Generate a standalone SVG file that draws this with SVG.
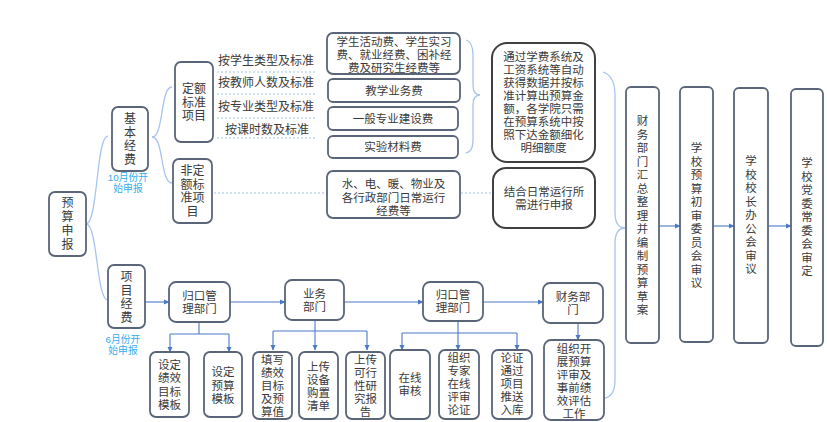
<svg xmlns="http://www.w3.org/2000/svg" width="827" height="422" viewBox="0 0 827 422">
<defs>
<style>
text{font-family:"Liberation Sans","Noto Sans CJK SC",sans-serif;font-size:11.5px;fill:#3a3a3a;text-anchor:middle;dominant-baseline:central}
.box{fill:#fff;stroke:#5b6579;stroke-width:1.8}
.dbox{fill:#fff;stroke:#404040;stroke-width:2}
.curve{fill:none;stroke:#a9c4ec;stroke-width:1.3}
.dot{fill:none;stroke:#9dc3e6;stroke-width:1.2;stroke-dasharray:2 2}
.arr{fill:none;stroke:#4a78c8;stroke-width:1.1}
.blue{fill:#33adf0;font-size:9.8px}
.lb{font-size:12px}
</style>
<marker id="ah" markerWidth="6" markerHeight="6" refX="5" refY="3" orient="auto" markerUnits="userSpaceOnUse">
<path d="M0,0.5 L5.5,3 L0,5.5 Z" fill="#4a78c8"/>
</marker>
</defs>
<rect width="827" height="422" fill="#fff"/>

<g id="connectors">
<path class="curve" d="M86,224 C98,224 96,136 108,136"/>
<path class="curve" d="M86,224 C98,224 96,300 108,300"/>
<path class="curve" d="M152,137 C164,137 160,87 172,87"/>
<path class="curve" d="M152,137 C164,137 160,183 172,183"/>
<path class="dot" d="M217,72 H315 M217,94 H315 M217,118 H315 M217,138 H315"/>
<path class="dot" d="M214,193 H327 M461,193 H492"/>
<path class="curve" d="M466,40 Q473,42 473,55 V85 Q473,95 480,95 Q473,95 473,105 V140 Q473,152 466,153"/>
<path class="curve" d="M603,72 Q615,76 615,95 V212 Q615,228 625,228 Q615,228 615,244 V380 Q615,396 605,398"/>
<path class="arr" marker-end="url(#ah)" d="M145,302 H169"/>
<path class="arr" marker-end="url(#ah)" d="M230,302 H285"/>
<path class="arr" marker-end="url(#ah)" d="M344,302 H423"/>
<path class="arr" marker-end="url(#ah)" d="M483,302 H543"/>
<path class="arr" d="M199,322 V334 M170,334 H229"/>
<path class="arr" marker-end="url(#ah)" d="M170,334 V352"/>
<path class="arr" marker-end="url(#ah)" d="M229,334 V352"/>
<path class="arr" d="M315,320 V331 M273,331 H367"/>
<path class="arr" marker-end="url(#ah)" d="M273,331 V350"/>
<path class="arr" marker-end="url(#ah)" d="M315,331 V350"/>
<path class="arr" marker-end="url(#ah)" d="M367,331 V350"/>
<path class="arr" d="M458,321 V333 M402,333 H517"/>
<path class="arr" marker-end="url(#ah)" d="M402,333 V350"/>
<path class="arr" marker-end="url(#ah)" d="M458,333 V350"/>
<path class="arr" marker-end="url(#ah)" d="M517,333 V350"/>
<path class="arr" marker-end="url(#ah)" d="M578,323 V340"/>
<path class="arr" marker-end="url(#ah)" d="M659,226 H680"/>
<path class="arr" marker-end="url(#ah)" d="M713,226 H734"/>
<path class="arr" marker-end="url(#ah)" d="M768,226 H791"/>
</g>

<g id="labels">
<text class="lb" x="266" y="61">按学生类型及标准</text>
<text class="lb" x="266" y="83">按教师人数及标准</text>
<text class="lb" x="266" y="107">按专业类型及标准</text>
<text class="lb" x="267" y="130">按课时数及标准</text>
<text class="blue" x="128" y="177">10月份开<tspan x="128" dy="11">始申报</tspan></text>
<text class="blue" x="123" y="339">6月份开<tspan x="123" dy="11">始申报</tspan></text>
</g>

<g id="n-yusuan"><rect class="box" x="49" y="192" width="37" height="64" rx="6"/>
<text class="lb" x="67.5" y="203">预<tspan x="67.5" dy="14">算</tspan><tspan x="67.5" dy="14">申</tspan><tspan x="67.5" dy="14">报</tspan></text></g>

<g id="n-jiben"><rect class="box" x="112" y="107" width="36" height="64" rx="6"/>
<text class="lb" x="130" y="119">基<tspan x="130" dy="13.5">本</tspan><tspan x="130" dy="13.5">经</tspan><tspan x="130" dy="13.5">费</tspan></text></g>

<g id="n-xiangmu"><rect class="box" x="108" y="265" width="37" height="63" rx="6"/>
<text class="lb" x="126.5" y="277">项<tspan x="126.5" dy="13.5">目</tspan><tspan x="126.5" dy="13.5">经</tspan><tspan x="126.5" dy="13.5">费</tspan></text></g>

<g id="n-dinge"><rect class="box" x="175" y="62" width="38" height="80" rx="6"/>
<text class="lb" x="194" y="89">定额<tspan x="194" dy="13.5">标准</tspan><tspan x="194" dy="13.5">项目</tspan></text></g>

<g id="n-feidinge"><rect class="box" x="173" y="159" width="39" height="64" rx="6"/>
<text class="lb" x="192.5" y="171">非定<tspan x="192.5" dy="13.5">额标</tspan><tspan x="192.5" dy="13.5">准项</tspan><tspan x="192.5" dy="13.5">目</tspan></text></g>

<g id="n-xuesheng"><rect class="box" x="327" y="33" width="133" height="41" rx="6"/>
<text x="394" y="42">学生活动费、学生实习<tspan x="394" dy="13">费、就业经费、困补经</tspan><tspan x="394" dy="13">费及研究生经费等</tspan></text></g>
<g id="n-jiaoxue"><rect class="box" x="328" y="79" width="132" height="23" rx="5"/><text x="394" y="90.5">教学业务费</text></g>
<g id="n-yiban"><rect class="box" x="328" y="107" width="130" height="23" rx="5"/><text x="393" y="118.5">一般专业建设费</text></g>
<g id="n-shiyan"><rect class="box" x="328" y="136" width="130" height="22" rx="5"/><text x="393" y="147">实验材料费</text></g>
<g id="n-shuidian"><rect class="box" x="327" y="171" width="133" height="47" rx="6"/>
<text x="393.5" y="184">水、电、暖、物业及<tspan x="393.5" dy="13.5">各行政部门日常运行</tspan><tspan x="393.5" dy="13.5">经费等</tspan></text></g>

<g id="n-tongguo"><rect class="dbox" x="492" y="43" width="103" height="119" rx="15"/>
<text x="543.5" y="57">通过学费系统及<tspan x="543.5" dy="13">工资系统等自动</tspan><tspan x="543.5" dy="13">获得数据并按标</tspan><tspan x="543.5" dy="13">准计算出预算金</tspan><tspan x="543.5" dy="13">额，各学院只需</tspan><tspan x="543.5" dy="13">在预算系统中按</tspan><tspan x="543.5" dy="13">照下达金额细化</tspan><tspan x="543.5" dy="13">明细额度</tspan></text></g>
<g id="n-jiehe"><rect class="dbox" x="493" y="168" width="102" height="60" rx="13"/>
<text x="544" y="192">结合日常运行所<tspan x="544" dy="13">需进行申报</tspan></text></g>

<g id="n-caiwu-huizong"><rect class="box" x="626" y="87" width="33" height="256" rx="5"/>
<text x="642.5" y="121">财<tspan x="642.5" dy="13.5">务</tspan><tspan x="642.5" dy="13.5">部</tspan><tspan x="642.5" dy="13.5">门</tspan><tspan x="642.5" dy="13.5">汇</tspan><tspan x="642.5" dy="13.5">总</tspan><tspan x="642.5" dy="13.5">整</tspan><tspan x="642.5" dy="13.5">理</tspan><tspan x="642.5" dy="13.5">并</tspan><tspan x="642.5" dy="13.5">编</tspan><tspan x="642.5" dy="13.5">制</tspan><tspan x="642.5" dy="13.5">预</tspan><tspan x="642.5" dy="13.5">算</tspan><tspan x="642.5" dy="13.5">草</tspan><tspan x="642.5" dy="13.5">案</tspan></text></g>
<g id="n-chushen"><rect class="box" x="680" y="87" width="33" height="255" rx="5"/>
<text x="696.5" y="148">学<tspan x="696.5" dy="13.5">校</tspan><tspan x="696.5" dy="13.5">预</tspan><tspan x="696.5" dy="13.5">算</tspan><tspan x="696.5" dy="13.5">初</tspan><tspan x="696.5" dy="13.5">审</tspan><tspan x="696.5" dy="13.5">委</tspan><tspan x="696.5" dy="13.5">员</tspan><tspan x="696.5" dy="13.5">会</tspan><tspan x="696.5" dy="13.5">审</tspan><tspan x="696.5" dy="13.5">议</tspan></text></g>
<g id="n-xiaozhang"><rect class="box" x="734" y="88" width="34" height="255" rx="5"/>
<text x="751" y="161">学<tspan x="751" dy="13.5">校</tspan><tspan x="751" dy="13.5">校</tspan><tspan x="751" dy="13.5">长</tspan><tspan x="751" dy="13.5">办</tspan><tspan x="751" dy="13.5">公</tspan><tspan x="751" dy="13.5">会</tspan><tspan x="751" dy="13.5">审</tspan><tspan x="751" dy="13.5">议</tspan></text></g>
<g id="n-dangwei"><rect class="box" x="791" y="89" width="32" height="257" rx="5"/>
<text x="807" y="163">学<tspan x="807" dy="13.5">校</tspan><tspan x="807" dy="13.5">党</tspan><tspan x="807" dy="13.5">委</tspan><tspan x="807" dy="13.5">常</tspan><tspan x="807" dy="13.5">委</tspan><tspan x="807" dy="13.5">会</tspan><tspan x="807" dy="13.5">审</tspan><tspan x="807" dy="13.5">定</tspan></text></g>

<g id="n-guikou1"><rect class="box" x="169" y="282" width="61" height="40" rx="7"/>
<text x="199.5" y="295.5">归口管<tspan x="199.5" dy="13">理部门</tspan></text></g>
<g id="n-yewu"><rect class="box" x="285" y="280" width="59" height="40" rx="7"/>
<text x="314.5" y="294">业务<tspan x="314.5" dy="13">部门</tspan></text></g>
<g id="n-guikou2"><rect class="box" x="423" y="282" width="60" height="39" rx="7"/>
<text x="453" y="295">归口管<tspan x="453" dy="13">理部门</tspan></text></g>
<g id="n-caiwu"><rect class="box" x="543" y="283" width="60" height="40" rx="7"/>
<text x="573" y="296.5">财务部<tspan x="573" dy="13">门</tspan></text></g>

<g id="n-shedingjixiao"><rect class="box" x="150" y="352" width="39" height="65" rx="6"/>
<text x="169.5" y="364.5">设定<tspan x="169.5" dy="13.5">绩效</tspan><tspan x="169.5" dy="13.5">目标</tspan><tspan x="169.5" dy="13.5">模板</tspan></text></g>
<g id="n-shedingyusuan"><rect class="box" x="204" y="352" width="38" height="65" rx="6"/>
<text x="223" y="372">设定<tspan x="223" dy="13.5">预算</tspan><tspan x="223" dy="13.5">模板</tspan></text></g>
<g id="n-tianxie"><rect class="box" x="253" y="352" width="39" height="67" rx="6"/>
<text x="272.5" y="360">填写<tspan x="272.5" dy="13">绩效</tspan><tspan x="272.5" dy="13">目标</tspan><tspan x="272.5" dy="13">及预</tspan><tspan x="272.5" dy="13">算值</tspan></text></g>
<g id="n-shebei"><rect class="box" x="299" y="352" width="39" height="67" rx="6"/>
<text x="318.5" y="367">上传<tspan x="318.5" dy="13">设备</tspan><tspan x="318.5" dy="13">购置</tspan><tspan x="318.5" dy="13">清单</tspan></text></g>
<g id="n-kexing"><rect class="box" x="346" y="352" width="39" height="67" rx="6"/>
<text x="365.5" y="360">上传<tspan x="365.5" dy="13">可行</tspan><tspan x="365.5" dy="13">性研</tspan><tspan x="365.5" dy="13">究报</tspan><tspan x="365.5" dy="13">告</tspan></text></g>
<g id="n-zaixian"><rect class="box" x="390" y="350" width="40" height="69" rx="6"/>
<text x="410" y="378">在线<tspan x="410" dy="13">审核</tspan></text></g>
<g id="n-zhuanjia"><rect class="box" x="439" y="350" width="40" height="69" rx="6"/>
<text x="459" y="358">组织<tspan x="459" dy="13">专家</tspan><tspan x="459" dy="13">在线</tspan><tspan x="459" dy="13">评审</tspan><tspan x="459" dy="13">论证</tspan></text></g>
<g id="n-lunzheng"><rect class="box" x="492" y="350" width="40" height="69" rx="6"/>
<text x="512" y="358">论证<tspan x="512" dy="13">通过</tspan><tspan x="512" dy="13">项目</tspan><tspan x="512" dy="13">推送</tspan><tspan x="512" dy="13">入库</tspan></text></g>
<g id="n-zuzhi"><rect class="box" x="544" y="340" width="60" height="80" rx="7"/>
<text x="574" y="349">组织开<tspan x="574" dy="13">展预算</tspan><tspan x="574" dy="13">评审及</tspan><tspan x="574" dy="13">事前绩</tspan><tspan x="574" dy="13">效评估</tspan><tspan x="574" dy="13">工作</tspan></text></g>
</svg>
